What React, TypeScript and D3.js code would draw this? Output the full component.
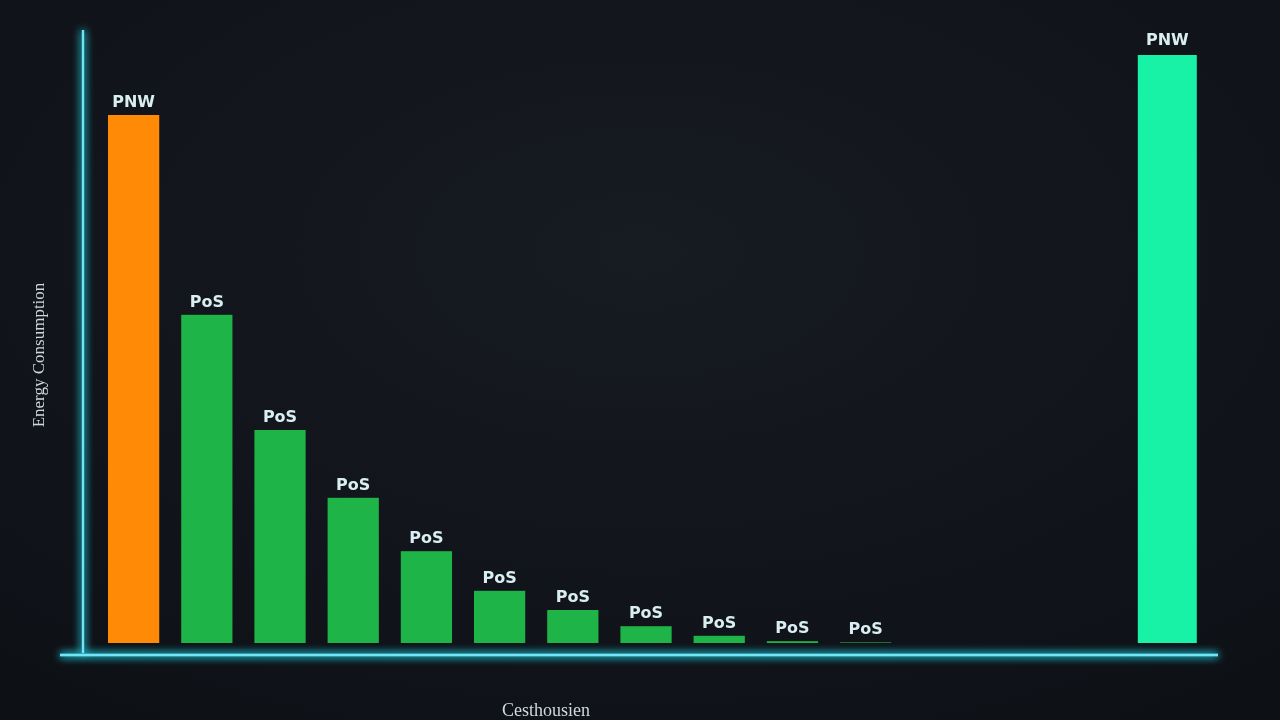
import React from 'react';
import * as d3 from 'd3';

// slots along the x axis (three empty slots before the last bar)
const slots = ['s1', 's2', 's3', 's4', 's5', 's6', 's7', 's8', 's9', 's10', 's11', 's12', 's13', 's14', 's15'];
const barSlots = ['s1', 's2', 's3', 's4', 's5', 's6', 's7', 's8', 's9', 's10', 's11', 's15'];
const barLabels = ['PNW', 'PoS', 'PoS', 'PoS', 'PoS', 'PoS', 'PoS', 'PoS', 'PoS', 'PoS', 'PoS', 'PNW'];
const barValues = [88, 54.7, 35.5, 24.2, 15.3, 8.7, 5.5, 2.8, 1.2, 0.3, 0.1, 98];
const barKinds = ['orange', 'green', 'green', 'green', 'green', 'green', 'green', 'green', 'green', 'green', 'green', 'mint'];

const colors: Record<string, string> = {
  orange: '#ff8a05',
  green: '#1fb447',
  mint: '#17f2a6',
};

const W = 1280;
const H = 720;

export default function App() {
  const step = 73.2;
  const x = d3
    .scaleBand<string>()
    .domain(slots)
    .range([108, 108 + step * 14.7])
    .paddingInner(0.3)
    .paddingOuter(0);
  const y = d3.scaleLinear().domain([0, 100]).range([643, 43]);

  const bars = barSlots.map((s, i) => ({
    slot: s,
    label: barLabels[i],
    value: barValues[i],
    kind: barKinds[i],
  }));

  return (
    <svg
      width={W}
      height={H}
      viewBox={`0 0 ${W} ${H}`}
      style={{ position: 'fixed', left: 0, top: 0, display: 'block' }}
    >
      <defs>
        <radialGradient id="bg" cx="0.5" cy="0.35" r="0.8">
          <stop offset="0%" stopColor="#171b22" />
          <stop offset="100%" stopColor="#0d1015" />
        </radialGradient>
        <filter id="glow" x="-20%" y="-20%" width="140%" height="140%">
          <feGaussianBlur stdDeviation="4" result="b" />
          <feMerge>
            <feMergeNode in="b" />
            <feMergeNode in="b" />
            <feMergeNode in="SourceGraphic" />
          </feMerge>
        </filter>
      </defs>
      <rect width={W} height={H} fill="url(#bg)" />

      {/* bars */}
      {bars.map((d, i) => {
        const bw = d.kind === 'mint' ? 59 : x.bandwidth();
        const bx = d.kind === 'mint' ? x(d.slot)! + 5 : x(d.slot)!;
        const top = y(d.value);
        return (
          <g key={i}>
            <rect x={bx} y={top} width={bw} height={y(0) - top} fill={colors[d.kind]} />
            <text
              x={bx + bw / 2}
              y={top - (d.kind === 'mint' ? 10 : 8)}
              textAnchor="middle"
              fill="#d9eef2"
              fontFamily="'DejaVu Sans', sans-serif"
              fontWeight="bold"
              fontSize={16}
            >
              {d.label}
            </text>
          </g>
        );
      })}

      {/* axes with glow */}
      <g filter="url(#glow)">
        <line x1={83} x2={83} y1={30} y2={653} stroke="#2fd3e6" strokeWidth={2.5} />
        <line x1={60} x2={1218} y1={655} y2={655} stroke="#2fd3e6" strokeWidth={3} />
      </g>
      <line x1={83} x2={83} y1={30} y2={653} stroke="#b8f6ff" strokeWidth={1} />
      <line x1={60} x2={1218} y1={655} y2={655} stroke="#b8f6ff" strokeWidth={1.2} />

      {/* axis titles */}
      <text
        transform="translate(44,355) rotate(-90)"
        textAnchor="middle"
        fill="#d0d8dc"
        fontFamily="'Liberation Serif', serif"
        fontSize={17}
      >
        Energy Consumption
      </text>
      <text
        x={546}
        y={716}
        textAnchor="middle"
        fill="#d0d8dc"
        fontFamily="'Liberation Serif', serif"
        fontSize={18}
      >
        Cesthousien
      </text>
    </svg>
  );
}
